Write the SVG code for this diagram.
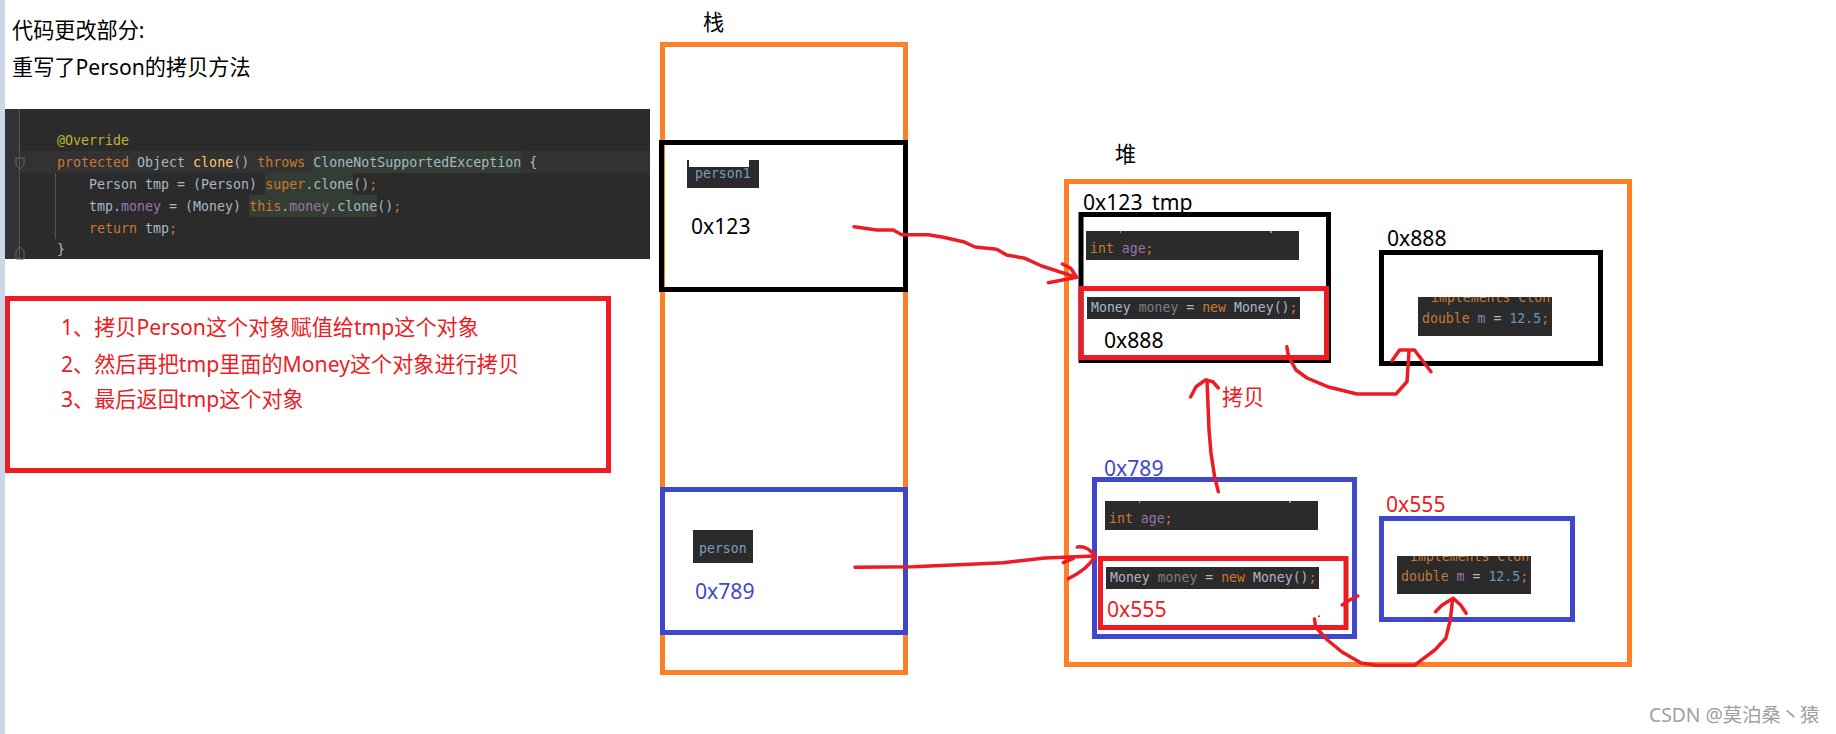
<svg xmlns="http://www.w3.org/2000/svg" width="1836" height="734" viewBox="0 0 1836 734">
<style>
.t{font-family:"Noto Sans","Noto Sans CJK SC",sans-serif;font-size:21.150px}
.c{font-family:"DejaVu Sans Mono","Liberation Mono",monospace;font-size:13.200px;fill:#a9b7c6}
.w{font-size:13.300px}
.k{fill:#cc7832}.v{fill:#9876aa}.n{fill:#6897bb}.f{fill:#ffc66d}
.bg{fill:#2b2b2b}.hl{fill:#343d33}
.box{fill:none;stroke-width:5}
.or{stroke:#ff7f27}.bk{stroke:#000}.bl{stroke:#3f48cc}.rd{stroke:#ed1c24}
.red{fill:#ed1c24}.blue{fill:#3f48cc}
.ink{fill:none;stroke:#ed1c24;stroke-width:3.500;stroke-linejoin:round;stroke-linecap:round}
</style>
<defs>
<clipPath id="c1"><rect x="1418" y="297" width="134" height="39"/></clipPath>
<clipPath id="c2"><rect x="1397" y="556" width="134" height="38"/></clipPath>
</defs>
<rect width="1836" height="734" fill="#fff"/>
<rect width="5" height="734" fill="#ccd6e8"/>
<g id="intro">
<text class="t" x="12" y="38">代码更改部分:</text>
<text class="t" x="12" y="75">重写了Person的拷贝方法</text>
</g>
<g id="code">
<rect class="bg" x="5" y="109" width="645" height="150"/>
<rect x="5" y="109" width="15" height="150" fill="#313335"/>
<rect x="20" y="151" width="630" height="22" fill="#323232"/>
<rect class="hl" x="313" y="151" width="208" height="22"/>
<rect class="hl" x="265" y="173" width="88" height="22"/>
<rect class="hl" x="249" y="195" width="128" height="22"/>
<path d="M19.500 109V259M55.500 173V239" stroke="#555" fill="none"/>
<path d="M16 158h8v7l-4 4-4-4zM16 251l4-4 4 4v8h-8z" fill="none" stroke="#666"/>
<text class="c w" x="57" y="145" style="fill:#bbb529">@Override</text>
<text class="c w" x="57" y="167" xml:space="preserve"><tspan class="k">protected</tspan> Object <tspan class="f">clone</tspan>() <tspan class="k">throws</tspan> CloneNotSupportedException {</text>
<text class="c w" x="89" y="189" xml:space="preserve">Person tmp = (Person) <tspan class="k">super</tspan>.clone()<tspan class="k">;</tspan></text>
<text class="c w" x="89" y="211" xml:space="preserve">tmp.<tspan class="v">money</tspan> = (Money) <tspan class="k">this</tspan>.<tspan class="v">money</tspan>.clone()<tspan class="k">;</tspan></text>
<text class="c w" x="89" y="233" xml:space="preserve"><tspan class="k">return</tspan> tmp<tspan class="k">;</tspan></text>
<text class="c w" x="57" y="254">}</text>
</g>
<g id="steps">
<rect class="box rd" x="7.500" y="298.500" width="601" height="172"/>
<text class="t red" x="61" y="335">1、拷贝Person这个对象赋值给tmp这个对象</text>
<text class="t red" x="61" y="372">2、然后再把tmp里面的Money这个对象进行拷贝</text>
<text class="t red" x="61" y="407">3、最后返回tmp这个对象</text>
</g>
<g id="stack">
<text class="t" x="703" y="30">栈</text>
<rect class="box or" x="662.500" y="44.500" width="243" height="628"/>
</g>
<g id="stack-person1">
<rect class="box bk" x="661.500" y="142.500" width="244" height="147"/>
<rect class="bg" x="687" y="160" width="72" height="28"/>
<rect x="689" y="160" width="60" height="7" fill="#fff"/>
<text class="c" x="695" y="178" style="fill:#7a9ebd">person1</text>
<text class="t" x="691" y="234">0x123</text>
</g>
<g id="stack-person">
<rect class="box bl" x="662.500" y="489.500" width="243" height="143"/>
<rect class="bg" x="693" y="530" width="60" height="33"/>
<text class="c" x="699" y="553" style="fill:#7a9ebd">person</text>
<text class="t blue" x="695" y="599">0x789</text>
</g>
<g id="heap">
<text class="t" x="1115" y="162">堆</text>
<rect class="box or" x="1066.500" y="181.500" width="563" height="483"/>
</g>
<g id="obj-tmp">
<text class="t" x="1083" y="210">0x123<tspan x="1152">tmp</tspan></text>
<rect class="box bk" x="1081" y="214.500" width="247.500" height="146"/>
<rect class="bg" x="1086" y="231" width="213" height="29"/>
<path d="M1120 231h1v2h-1zM1270 231h2v2h-2z" fill="#cc7832"/>
<text class="c" x="1090" y="253"><tspan class="k">int</tspan> <tspan class="v">age</tspan><tspan class="k">;</tspan></text>
</g>
<g id="field-tmp-money">
<rect class="box rd" x="1081" y="288.500" width="245.500" height="69"/>
<rect class="bg" x="1087" y="297" width="213" height="22"/>
<text class="c" x="1091" y="312" xml:space="preserve">Money <tspan style="fill:#7a7e85">money</tspan> = <tspan class="k">new</tspan> Money()<tspan class="k">;</tspan></text>
<text class="t" x="1104" y="348">0x888</text>
</g>
<g id="obj-money-copy">
<text class="t" x="1387" y="246">0x888</text>
<rect class="box bk" x="1381.500" y="252.500" width="219" height="111"/>
<rect class="bg" x="1418" y="297" width="134" height="39"/>
<text class="c" clip-path="url(#c1)" x="1431" y="302" style="fill:#cc7832">implements Clon</text>
<text class="c" x="1422" y="323"><tspan class="k">double</tspan> <tspan class="v">m</tspan> = <tspan class="n">12.5</tspan><tspan class="k">;</tspan></text>
</g>
<g id="obj-person">
<text class="t blue" x="1104" y="476">0x789</text>
<rect class="box bl" x="1094.500" y="479.500" width="260" height="157"/>
<rect class="bg" x="1105" y="501" width="213" height="29"/>
<path d="M1139 501h1v2h-1zM1289 501h2v2h-2z" fill="#cc7832"/>
<text class="c" x="1109" y="523"><tspan class="k">int</tspan> <tspan class="v">age</tspan><tspan class="k">;</tspan></text>
</g>
<g id="field-person-money">
<rect class="box rd" x="1100.500" y="558.500" width="245.500" height="69"/>
<rect class="bg" x="1106" y="567" width="213" height="22"/>
<text class="c" x="1110" y="582" xml:space="preserve">Money <tspan style="fill:#7a7e85">money</tspan> = <tspan class="k">new</tspan> Money()<tspan class="k">;</tspan></text>
<text class="t red" x="1107" y="617">0x555</text>
</g>
<g id="obj-money">
<text class="t red" x="1386" y="512">0x555</text>
<rect class="box bl" x="1381.500" y="518.500" width="191" height="101"/>
<rect class="bg" x="1397" y="556" width="134" height="38"/>
<text class="c" clip-path="url(#c2)" x="1410" y="561" style="fill:#cc7832">implements Clon</text>
<text class="c" x="1401" y="581"><tspan class="k">double</tspan> <tspan class="v">m</tspan> = <tspan class="n">12.5</tspan><tspan class="k">;</tspan></text>
</g>
<g id="connectors">
<path class="ink" d="M854 226.700L876.700 230L893.300 230L901.700 234.700L928.300 234.700L943.300 237.300L963.300 241.700L975 247L996.700 249.300L1006.700 255L1025 258.300L1041.700 266L1076.700 277.300"/>
<path class="ink" d="M1062.300 264L1070.700 268.300L1076.700 277.300L1048.300 282.700"/>
<path class="ink" d="M855 567.300L913.300 566.700L1003.300 562.700L1045 558L1095 556"/>
<path class="ink" d="M1077.300 547C1084 546 1090 549 1095 556C1090 566 1080 573 1068.300 578.700M1063.300 562.700L1073.300 558.300"/>
<path class="ink" d="M1286.800 346.700L1288.600 356.700L1296 370L1307 378L1327.500 386.700L1357 394L1396 394L1407 381.700L1409 351.700"/>
<path class="ink" d="M1392 360.700L1399.600 350L1414.400 350L1431 371.700"/>
<path class="ink" d="M1218.300 491.700L1214.600 476.700L1211 453L1209 430L1207 380"/>
<path class="ink" d="M1190.600 397L1196 386.700L1205.400 380L1212.800 381.700L1218.300 388"/>
<path class="ink" d="M1314.500 619L1315.600 627L1327.500 640L1342 652L1361 663L1375.600 665.300L1414.400 665.300L1434.800 650L1445.800 638.300L1450.300 620L1452.500 600"/>
<path class="ink" d="M1435.500 611.700L1442.200 605L1453.200 598.300L1460.600 605L1466.200 613.300"/>
<path class="ink" d="M1342.300 605L1349.700 600L1357.800 596"/>
<rect x="1318" y="615.500" width="2" height="1.500" fill="#ed1c24"/>
</g>
<text class="t" x="1649" y="722" style="font-size:19.300px;fill:#a0a0a0">CSDN @莫泊桑丶猿</text>
<text class="t red" x="1222" y="405">拷贝</text>
</svg>
